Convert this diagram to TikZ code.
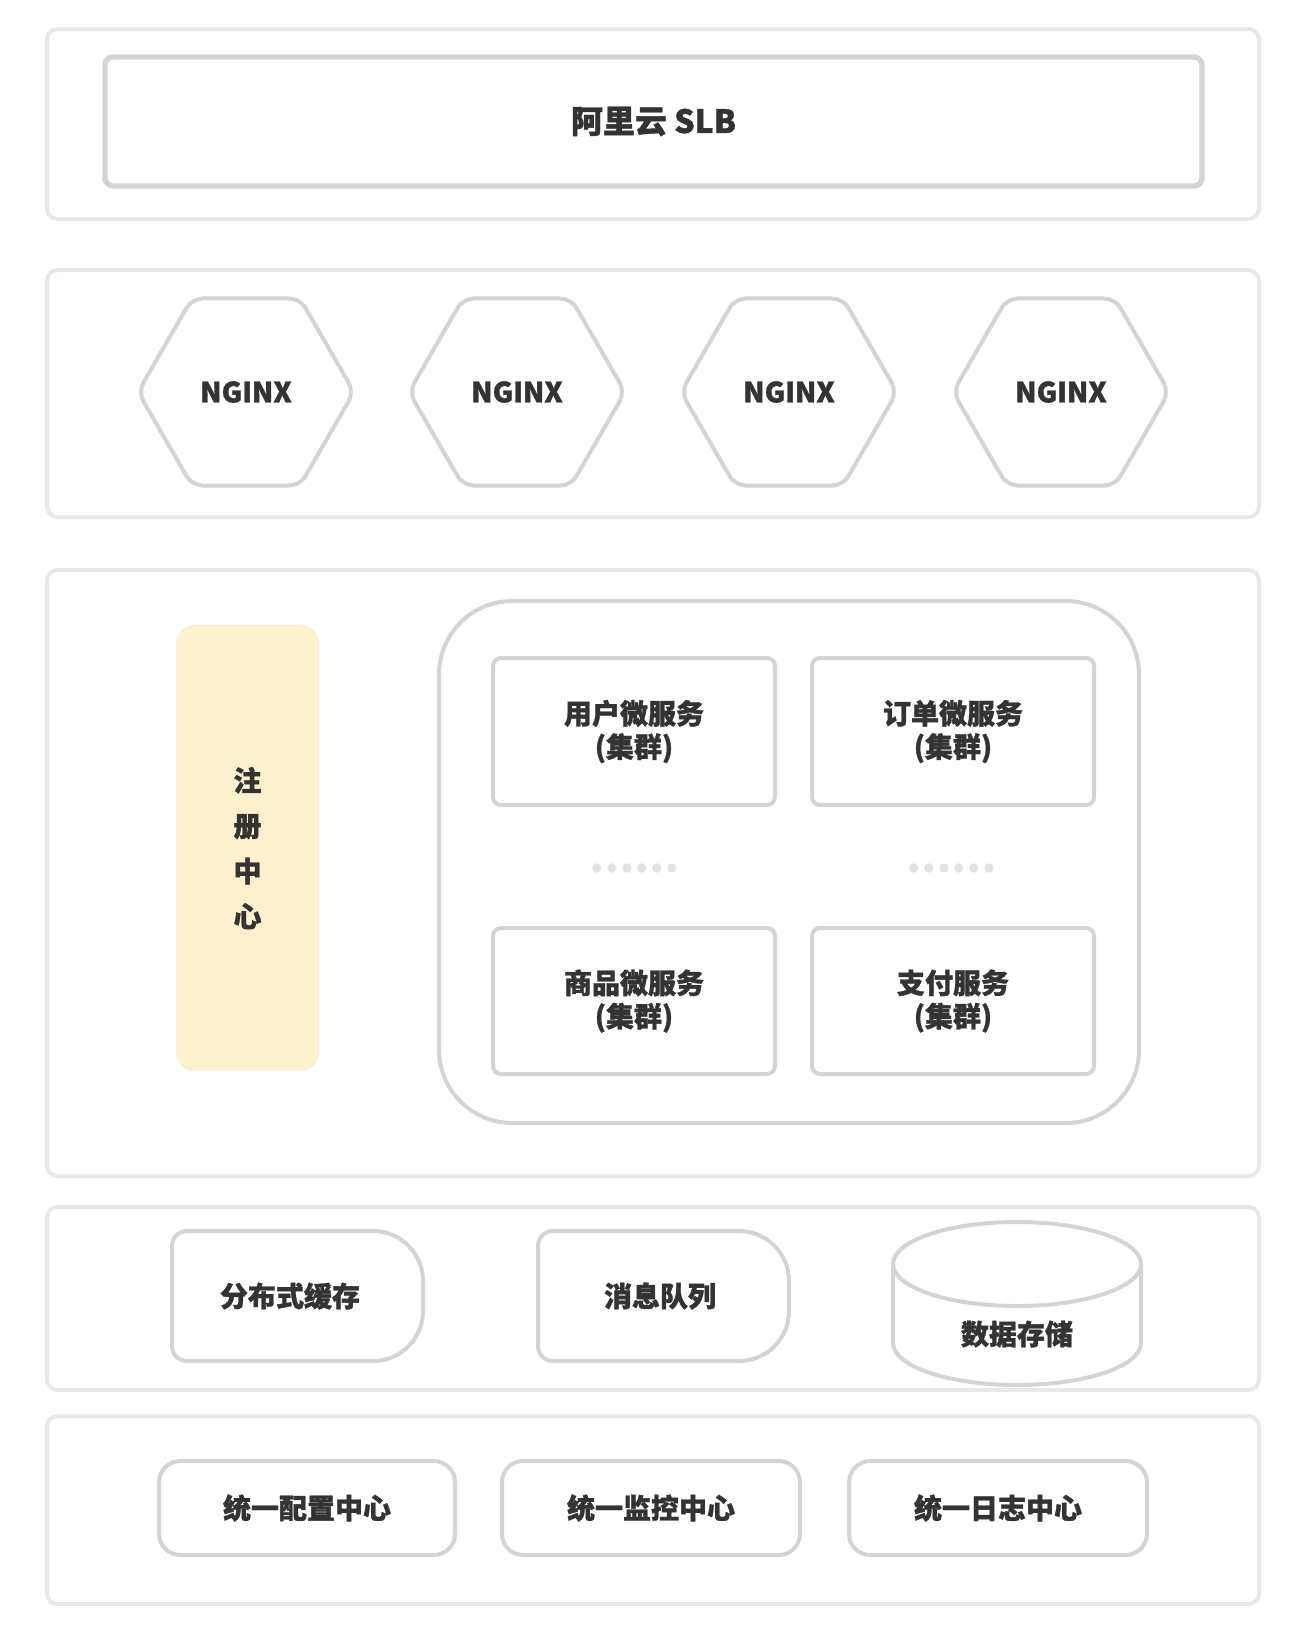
\documentclass[tikz,border=0pt]{standalone}
\usepackage{fontspec}
\setmainfont{Noto Sans CJK SC}[FakeBold=1.2]
\usetikzlibrary{shapes.geometric,fit}
\definecolor{layerc}{HTML}{E8E8E8}
\definecolor{boxc}{HTML}{D4D4D4}
\definecolor{txt}{HTML}{333333}
\definecolor{yel}{HTML}{FDF0CC}
\definecolor{dotc}{HTML}{E2E2E2}
\begin{document}
\begin{tikzpicture}[x=0.75pt,y=-0.75pt,
 layer/.style={draw=layerc, line width=3pt, rounded corners=8pt, inner sep=0pt},
 box/.style={draw=boxc, line width=3pt, rounded corners=6pt, inner sep=0pt},
 lbl/.style={text=txt, font=\fontsize{21}{25}\selectfont\bfseries, align=center},
 hexa/.style={draw=boxc, line width=3pt, regular polygon, regular polygon sides=6, minimum size=162pt, rounded corners=8pt, inner sep=0pt},
 pill/.style={draw=boxc, line width=3pt},
]
\useasboundingbox (0,0) rectangle (1304,1638);
% layer 1
\node[layer, fit={(47,29)(1259,219)}] (L1) {};
\node[box, line width=4pt, fit={(105,57)(1202,186)}] (slb) {};
\node[lbl, font=\fontsize{24}{28}\selectfont\bfseries] at (slb.center) {阿里云 SLB};
% layer 2
\node[layer, fit={(47,270)(1259,517)}] (L2) {};
\node[hexa] (n1) at (246,392) {};
\node[hexa] (n2) at (517,392) {};
\node[hexa] (n3) at (789,392) {};
\node[hexa] (n4) at (1061,392) {};
\foreach \n in {n1,n2,n3,n4} \node[lbl] at (\n.center) {NGINX};
% layer 3
\node[layer, fit={(47,570)(1259,1176)}] (L3) {};
\node[fill=yel, rounded corners=14pt, inner sep=0pt, fit={(176,625)(319,1071)}] (reg) {};
\node[lbl, font=\fontsize{21}{34}\selectfont\bfseries] at (reg.center) {注\\册\\中\\心};
\node[box, rounded corners=55pt, fit={(439,601)(1139,1123)}] (grp) {};
\node[box, fit={(493,658)(775,805)}] (s1) {};
\node[box, fit={(812,658)(1094,805)}] (s2) {};
\node[box, fit={(493,928)(775,1074)}] (s3) {};
\node[box, fit={(812,928)(1094,1074)}] (s4) {};
\node[lbl] at (s1.center) {用户微服务\\(集群)};
\node[lbl] at (s2.center) {订单微服务\\(集群)};
\node[lbl] at (s3.center) {商品微服务\\(集群)};
\node[lbl] at (s4.center) {支付服务\\(集群)};
\node[text=dotc, font=\fontsize{30}{34}\selectfont\bfseries] (d1) at (634,868) {……};
\node[text=dotc, font=\fontsize{30}{34}\selectfont\bfseries] (d2) at (951,868) {……};
% layer 4
\node[layer, fit={(47,1207)(1259,1390)}] (L4) {};
\draw[pill] (187,1231) -- (373,1231) arc(-90:0:50) -- (423,1311) arc(0:90:50) -- (187,1361) arc(90:180:15) -- (172,1246) arc(180:270:15) -- cycle;
\node[lbl] (cache) at (290,1296) {分布式缓存};
\draw[pill] (553,1231) -- (739,1231) arc(-90:0:50) -- (789,1311) arc(0:90:50) -- (553,1361) arc(90:180:15) -- (538,1246) arc(180:270:15) -- cycle;
\node[lbl] (mq) at (660,1296) {消息队列};
\draw[pill] (893,1264) -- (893,1343) arc(180:0:124 and 42) -- (1141,1264);
\draw[pill] (1017,1264) ellipse (124 and 42);
\node[lbl] (db) at (1017,1334) {数据存储};
% layer 5
\node[layer, fit={(47,1416)(1259,1604)}] (L5) {};
\node[box, rounded corners=16pt, fit={(159,1461)(455,1555)}] (c1) {};
\node[box, rounded corners=16pt, fit={(502,1461)(800,1555)}] (c2) {};
\node[box, rounded corners=16pt, fit={(849,1461)(1147,1555)}] (c3) {};
\node[lbl] at (c1.center) {统一配置中心};
\node[lbl] at (c2.center) {统一监控中心};
\node[lbl] at (c3.center) {统一日志中心};
\end{tikzpicture}
\end{document}
